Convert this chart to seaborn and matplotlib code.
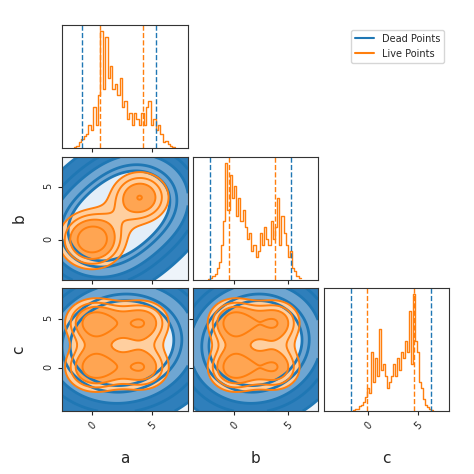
import numpy as np
import pandas as pd
import matplotlib
matplotlib.use("Agg")
import matplotlib.pyplot as plt
import seaborn as sns
from matplotlib.lines import Line2D

sns.set_style("white")
plt.rcParams['font.family'] = ['DejaVu Sans']

params = ["a", "b", "c"]
limits = {"a": (-2.5, 8.0), "b": (-3.8, 7.8), "c": (-4.4, 8.1)}
dead_lines = {"a": (-0.8, 5.3), "b": (-2.2, 5.3), "c": (-1.7, 6.3)}
live_lines = {"a": (0.7, 4.25), "b": (-0.5, 3.85), "c": (-0.1, 4.6)}

# histogram bins (start, width) and counts
hist_start = {"a": -1.5, "b": -2.4, "c": -1.5}
hist_width = {"a": 0.2, "b": 0.2, "c": 0.2}
counts_a = [0.01, 0.02, 0.05, 0.08, 0.1, 0.12, 0.2, 0.15, 0.35, 0.2, 0.45, 1.0, 0.5, 0.95, 0.6, 0.7, 0.5, 0.55,
            0.45, 0.6, 0.35, 0.4, 0.25, 0.3, 0.2, 0.3, 0.25, 0.2, 0.3, 0.2, 0.35, 0.4, 0.2, 0.25, 0.15, 0.2,
            0.12, 0.05, 0.06, 0.03, 0.02, 0.01]
counts_b = [0.01, 0.02, 0.03, 0.05, 0.1, 0.15, 0.3, 0.5, 1.0, 0.6, 0.9, 0.7, 0.8, 0.55, 0.7, 0.5, 0.6, 0.45,
            0.35, 0.4, 0.25, 0.3, 0.2, 0.25, 0.4, 0.3, 0.45, 0.35, 0.3, 0.5, 0.35, 0.45, 0.7, 0.3, 0.55,
            0.4, 0.3, 0.2, 0.25, 0.1, 0.08, 0.03, 0.02]
counts_c = [0.01, 0.02, 0.02, 0.04, 0.05, 0.08, 0.12, 0.2, 0.15, 0.5, 0.25, 0.45, 0.3, 0.7, 0.35, 0.4, 0.3,
            0.2, 0.25, 0.3, 0.4, 0.3, 0.45, 0.35, 0.5, 0.45, 0.6, 0.5, 0.85, 0.4, 1.0, 0.6, 0.5, 0.25,
            0.2, 0.1, 0.05, 0.03, 0.02, 0.01]
counts = {"a": counts_a, "b": counts_b, "c": counts_c}

# 2D density components: (cx, cy, sd, weight)
live_ab = [(0.0, 0.0, 1.8, 1.0), (4.0, 4.0, 1.7, 0.8)]
dead_ab = [(0.5, 0.5, 3.0, 1.0), (4.0, 4.0, 3.0, 1.0)]
live_ac = [(0.2, 0.0, 1.6, 1.0), (0.2, 4.6, 1.6, 1.0), (4.2, 0.0, 1.6, 0.8), (4.2, 4.6, 1.6, 0.8)]
dead_ac = [(1.5, 1.5, 3.8, 1.0), (3.5, 3.5, 3.8, 1.0)]
live_bc = [(0.0, 0.0, 1.6, 1.0), (0.0, 4.6, 1.6, 1.0), (3.9, 0.0, 1.6, 0.8), (3.9, 4.6, 1.6, 0.8)]
dead_bc = [(1.0, 1.5, 3.8, 1.0), (3.0, 3.5, 3.8, 1.0)]
pairs = {("a", "b"): (live_ab, dead_ab), ("a", "c"): (live_ac, dead_ac), ("b", "c"): (live_bc, dead_bc)}

BLUE = "#1f77b4"
ORANGE = "#ff7f0e"

fig = plt.figure(figsize=(4.74, 4.74), dpi=100)
W, H = 474, 474
cols = [(62, 188), (193, 318), (324, 449)]
rows = [(25, 148), (157, 280), (288, 411)]


def mix(comps, X, Y):
    Z = np.zeros_like(X)
    for cx, cy, sd, w in comps:
        Z += w * np.exp(-((X - cx) ** 2 + (Y - cy) ** 2) / (2 * sd ** 2))
    return Z / Z.max()


for i, py in enumerate(params):
    for j, px in enumerate(params):
        if j > i:
            continue
        x0, x1 = cols[j]
        y0, y1 = rows[i]
        ax = fig.add_axes([x0 / W, 1 - y1 / H, (x1 - x0) / W, (y1 - y0) / H])
        xl = limits[px]
        if i == j:
            c = counts[px]
            w = hist_width[px]
            start = hist_start[px]
            centers = start + w * (np.arange(len(c)) + 0.5)
            df = pd.DataFrame({"x": centers, "w": c})
            sns.histplot(data=df, x="x", weights="w", binwidth=w,
                         binrange=(start, start + w * len(c)), element="step", fill=False,
                         color=ORANGE, linewidth=1, ax=ax)
            for v in dead_lines[px]:
                ax.axvline(v, color=BLUE, ls="--", lw=1)
            for v in live_lines[px]:
                ax.axvline(v, color=ORANGE, ls="--", lw=1)
            ax.set_ylim(0, 1.05)
            ax.set_yticks([])
            ax.set_ylabel("")
        else:
            live, dead = pairs[(px, py)]
            yl = limits[py]
            xs = np.linspace(*xl, 150)
            ys = np.linspace(*yl, 150)
            X, Y = np.meshgrid(xs, ys)
            Zd = mix(dead, X, Y)
            Zl = mix(live, X, Y)
            ax.set_facecolor("#eef4fa")
            ax.contourf(X, Y, Zd, levels=[0.1, 0.3, 0.55, 1.01], colors=["#2f7fbb", "#6fa6d2", "#e3eef8"])
            ax.contour(X, Y, Zd, levels=[0.1, 0.2, 0.3, 0.45, 0.55], colors=[BLUE], linewidths=2)
            ax.contourf(X, Y, Zl, levels=[0.3, 0.6, 1.01], colors=["#ffcf9f", "#ffa552"])
            ax.contour(X, Y, Zl, levels=[0.3, 0.45, 0.6, 0.8], colors=[ORANGE], linewidths=1.4)
            ax.set_ylim(*yl)
            ax.set_yticks([0, 5])
        ax.set_xlim(*xl)
        ax.set_xticks([0, 5])
        if i == 2:
            ax.tick_params(axis="x", labelrotation=45, labelsize=7, length=3, direction="out", bottom=True)
            ax.set_xlabel(px, fontsize=11, labelpad=14)
        else:
            ax.tick_params(axis="x", labelbottom=False, length=3, bottom=True)
            ax.set_xlabel("")
        if j == 0 and i > 0:
            ax.tick_params(axis="y", labelrotation=90, labelsize=7, length=3, left=True)
            ax.set_ylabel(py, fontsize=11, labelpad=12)
        elif i != j:
            ax.tick_params(axis="y", labelleft=False, length=3, left=True)
            ax.set_ylabel("")
        for s in ax.spines.values():
            s.set_color("#333333")
            s.set_linewidth(0.8)

handles = [Line2D([], [], color=BLUE, lw=1.5), Line2D([], [], color=ORANGE, lw=1.5)]
fig.legend(handles, ["Dead Points", "Live Points"], loc="upper right",
           bbox_to_anchor=(449 / W, 1 - 25 / H), fontsize=7, frameon=True)
fig.savefig("out.png", dpi=100)
